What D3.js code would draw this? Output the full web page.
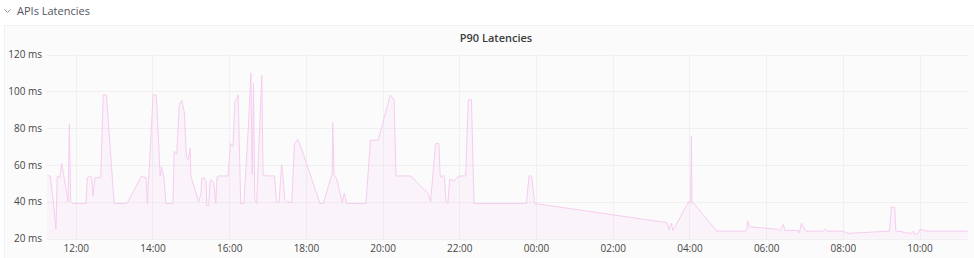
<!DOCTYPE html>
<html>
<head>
<meta charset="utf-8">
<script src="https://cdn.jsdelivr.net/npm/d3@7"></script>
<style>
  body { margin: 0; background: #fff; font-family: "Open Sans", sans-serif; }
</style>
</head>
<body>
<div id="chart"></div>
<script>
// chart size
var W = 974, H = 258;
var margin = {top: 54, right: 6, bottom: 19, left: 47};

// sample times (day rolls over after 23:58) and P90 latency in ms
var times = ["11:15","11:20","11:25","11:29","11:31","11:35","11:38","11:48","11:50","11:52",
  "11:56","12:16","12:18","12:22","12:25","12:27","12:30","12:39","12:43","12:48",
  "13:00","13:20","13:43","13:50","13:52","14:01","14:06","14:12","14:14","14:18",
  "14:21","14:32","14:34","14:38","14:42","14:46","14:50","14:53","14:56","14:59",
  "15:00","15:12","15:16","15:17","15:21","15:24","15:25","15:28","15:30","15:32",
  "15:36","15:39","15:41","15:44","15:58","16:02","16:06","16:09","16:12","16:14",
  "16:18","16:23","16:30","16:34","16:36","16:38","16:40","16:43","16:51","16:53",
  "16:58","17:11","17:14","17:18","17:22","17:24","17:27","17:30","17:38","17:42",
  "17:47","17:51","18:22","18:27","18:41","18:42","18:44","18:48","18:56","18:57",
  "19:00","19:04","19:34","19:41","19:53","20:12","20:15","20:18","20:21","20:44",
  "21:11","21:15","21:23","21:28","21:30","21:32","21:35","21:37","21:39","21:42",
  "21:45","21:49","21:51","21:56","22:00","22:10","22:14","22:19","22:23","23:45",
  "23:49","23:53","23:58","03:21","03:25","03:28","03:32","03:34","03:59","04:02",
  "04:03","04:04","04:07","04:43","05:28","05:30","05:31","05:34","06:18","06:21",
  "06:24","06:27","06:29","06:50","06:52","06:55","07:02","07:29","07:32","07:36",
  "08:00","08:08","09:13","09:16","09:18","09:21","09:23","09:31","09:39","09:47",
  "09:50","09:52","09:57","10:01","10:05","10:13","11:15"];
var latency = [54,54,40,25,54,53,61,40,82,40,
  39,39,53,54,53,43,53,53,98,98,
  39,39,54,53,39,98,98,54,59,53,
  39,39,67.6,66,93,95,88,64,63,69,
  54,40,44.5,52.6,53,50.8,37.8,37.8,50.8,52,
  50,39,53.5,54,54,71.6,70,94,96,98,
  39,39,80.6,110,55,104.5,41,39,108.6,54.5,
  54,54,40,39.5,60,54.5,41,40,39.5,71,
  73.8,71,39,39,55,83,54.5,52.6,41,39.5,
  44.5,39,39,73.4,73.4,98,96.8,95,54,54,
  44.5,40,71.6,71.6,54.5,53,54.5,53,40,39,
  52,52,51,53,54,54,95.4,95.4,39,39,
  54,54,39,28.8,28.6,24.6,28.4,24.3,40,39.5,
  75.6,39.5,39,24,24,25.5,29.6,26.4,25,24.4,
  25.8,27.7,24.4,24.4,23,28.2,24,24,25,24,
  24,22.8,24,37.2,37,37,24,23.8,23,22.8,
  24,22.4,22.6,25,24.6,24,24];

var yTicks = [20, 40, 60, 80, 100, 120];

// build dated points, stepping to the next day when the clock wraps
var parseTime = d3.timeParse("%Y-%m-%d %H:%M");
var data = [];
var day = 1, prev = null;
times.forEach(function(t, i) {
  if (prev !== null && t < prev) { day = 2; }
  prev = t;
  data.push({date: parseTime("2020-01-0" + day + " " + t), value: latency[i]});
});

var svg = d3.select('#chart')
  .append('svg')
    .attr('width', W)
    .attr('height', H);

// row header
svg.append('path')
  .attr('d', 'M4.5,9.5 L7.5,12.5 L10.5,9.5')
  .attr('fill', 'none')
  .attr('stroke', '#8e8e8e')
  .attr('stroke-width', 1);
svg.append('text')
  .attr('x', 17)
  .attr('y', 15)
  .attr('font-size', 11)
  .attr('fill', '#52545c')
  .text('APIs Latencies');

// panel
svg.append('rect')
  .attr('x', 4.5)
  .attr('y', 25.5)
  .attr('width', W - 4)
  .attr('height', H - 25)
  .attr('fill', '#fbfbfb')
  .attr('stroke', '#f1f1f1');

svg.append('text')
  .attr('x', 496)
  .attr('y', 42)
  .attr('text-anchor', 'middle')
  .attr('font-size', 11)
  .attr('font-weight', 600)
  .attr('fill', '#3d3d3d')
  .text('P90 Latencies');

var innerW = W - margin.left - margin.right,
    innerH = H - margin.top - margin.bottom;

var g = svg.append('g')
  .attr('transform', 'translate(' + margin.left + ',' + margin.top + ')');

var x = d3.scaleTime()
  .domain([parseTime("2020-01-01 11:15"), parseTime("2020-01-02 11:15")])
  .range([0, innerW - 0.5]);

var y = d3.scaleLinear()
  .domain([20, 120])
  .range([innerH - 0.5, 0.5]);

var xTicks = d3.timeHour.every(2).range(x.domain()[0], x.domain()[1]);

// grid
g.selectAll('.hgrid')
  .data(yTicks)
  .enter().append('line')
    .attr('x1', 0).attr('x2', innerW)
    .attr('y1', function(d) { return Math.round(y(d)) + 0.5; })
    .attr('y2', function(d) { return Math.round(y(d)) + 0.5; })
    .attr('stroke', '#f0f0f0');
g.selectAll('.vgrid')
  .data(xTicks)
  .enter().append('line')
    .attr('x1', function(d) { return Math.round(x(d)) + 0.5; })
    .attr('x2', function(d) { return Math.round(x(d)) + 0.5; })
    .attr('y1', 0).attr('y2', innerH)
    .attr('stroke', '#f0f0f0');

// area + line
g.append('path')
  .datum(data)
  .attr('fill', 'rgba(236, 150, 228, 0.08)')
  .attr('stroke', 'none')
  .attr('d', d3.area()
    .x(function(d) { return x(d.date); })
    .y0(y(20))
    .y1(function(d) { return y(d.value); }));

g.append('path')
  .datum(data)
  .attr('fill', 'none')
  .attr('stroke', '#f6cdf1')
  .attr('stroke-width', 1)
  .attr('d', d3.line()
    .x(function(d) { return x(d.date); })
    .y(function(d) { return y(d.value); }));

// axes
var yAxis = g.append('g')
  .call(d3.axisLeft(y).tickValues(yTicks).tickSize(0).tickPadding(5)
    .tickFormat(function(d) { return d + ' ms'; }));
var xAxis = g.append('g')
  .attr('transform', 'translate(0,' + innerH + ')')
  .call(d3.axisBottom(x).tickValues(xTicks).tickSize(0).tickPadding(6)
    .tickFormat(d3.timeFormat('%H:%M')));

[yAxis, xAxis].forEach(function(a) {
  a.select('.domain').remove();
  a.selectAll('text')
    .attr('font-family', '"Open Sans", sans-serif')
    .attr('font-size', 10)
    .attr('fill', '#464646');
});
</script>
</body>
</html>
